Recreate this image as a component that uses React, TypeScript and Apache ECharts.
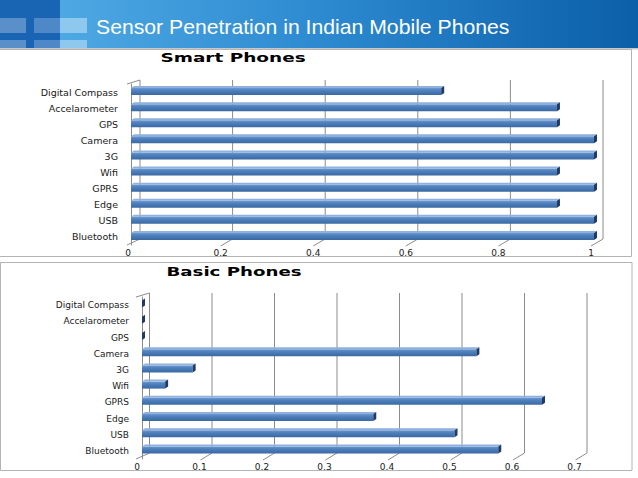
import React, { useEffect, useRef } from "react";
import * as echarts from "echarts";

// categories listed bottom to top, as the category axis draws them
const categories = [
  "Bluetooth",
  "USB",
  "Edge",
  "GPRS",
  "Wifi",
  "3G",
  "Camera",
  "GPS",
  "Accelarometer",
  "Digital Compass",
];
const smartPhones = [1, 1, 0.92, 1, 0.92, 1, 1, 0.92, 0.92, 0.67];
const basicPhones = [0.57, 0.5, 0.37, 0.64, 0.037, 0.081, 0.535, 0, 0, 0];
const smartTicks = [0, 0.2, 0.4, 0.6, 0.8, 1];
const basicTicks = [0, 0.1, 0.2, 0.3, 0.4, 0.5, 0.6, 0.7];

const GRID = "#8c8c8c";
const LABEL = "#1a1a1a";
const FONT = "DejaVu Sans";

// 3D depth of a bar: top face and end cap
const DEPTH_X = 3;
const DEPTH_Y = 2;
const BAR_H = 7;

function barRenderer(dy: number) {
  const face = new echarts.graphic.LinearGradient(0, 0, 0, 1, [
    { offset: 0, color: "#6b98d1" },
    { offset: 0.35, color: "#4f81bd" },
    { offset: 1, color: "#3a68a3" },
  ]);
  return (params: any, api: any) => {
    const cat = api.value(1);
    const base = api.coord([0, cat]);
    const tip = api.coord([api.value(0), cat]);
    const x0 = base[0];
    const x1 = tip[0];
    const top = base[1] + dy - BAR_H / 2;
    return {
      type: "group",
      children: [
        {
          type: "rect",
          shape: { x: x0, y: top, width: Math.max(x1 - x0, 0), height: BAR_H },
          style: { fill: face },
        },
        {
          type: "polygon",
          shape: {
            points: [
              [x0, top],
              [x0 + DEPTH_X, top - DEPTH_Y],
              [x1 + DEPTH_X, top - DEPTH_Y],
              [x1, top],
            ],
          },
          style: { fill: "#8fb1dc" },
        },
        {
          type: "polygon",
          shape: {
            points: [
              [x1, top],
              [x1 + DEPTH_X, top - DEPTH_Y],
              [x1 + DEPTH_X, top + BAR_H - DEPTH_Y],
              [x1, top + BAR_H],
            ],
          },
          style: { fill: "#1f3a66" },
        },
      ],
    };
  };
}

// back wall gridlines plus the floor diagonals and the side wall
function wallRenderer(backDx: number, frontDx: number, axisOffset: number) {
  return (params: any, api: any) => {
    const cs = params.coordSys;
    const v = api.value(0);
    const p = api.coord([v, 0]);
    const bx = p[0] + backDx;
    const top = cs.y - 4;
    const backBottom = cs.y + cs.height - 6;
    const bottom = cs.y + cs.height;
    const fx = v === 0 ? cs.x - axisOffset : p[0] + frontDx;
    const fy = v === 0 ? bottom : bottom + 1;
    const children: any[] = [
      {
        type: "polyline",
        shape: { points: [[bx, top], [bx, backBottom], [fx, fy]] },
        style: { stroke: GRID, fill: null, lineWidth: 1 },
      },
    ];
    if (v === 0) {
      children.push({
        type: "line",
        shape: { x1: cs.x - axisOffset, y1: cs.y, x2: bx, y2: top },
        style: { stroke: GRID, lineWidth: 1 },
      });
    }
    return { type: "group", children };
  };
}

const valueAxis = (gridIndex: number, max: number, interval: number, shift: number) => ({
  gridIndex,
  type: "value" as const,
  min: 0,
  max,
  interval,
  splitLine: { show: false },
  axisLine: { show: false },
  axisTick: { show: false },
  axisLabel: {
    margin: 3,
    padding: [0, shift * 2, 0, 0],
    fontSize: 9,
    fontFamily: FONT,
    color: LABEL,
  },
});

const categoryAxis = (gridIndex: number, offset: number, margin: number, size: number) => ({
  gridIndex,
  type: "category" as const,
  data: categories,
  offset,
  axisLine: { lineStyle: { color: GRID } },
  axisTick: { length: 4, lineStyle: { color: GRID } },
  axisLabel: { margin, fontSize: size, fontFamily: FONT, color: LABEL },
});

export default function App() {
  const chartRef = useRef<HTMLDivElement>(null);

  useEffect(() => {
    if (!chartRef.current) return;
    const chart = echarts.init(chartRef.current, null, { renderer: "svg" });

    const banner = new echarts.graphic.LinearGradient(0, 0, 1, 0, [
      { offset: 0, color: "#55afe7" },
      { offset: 0.5, color: "#2d8ad0" },
      { offset: 1, color: "#0b5fa8" },
    ]);

    chart.setOption({
      animation: false,
      backgroundColor: "#ffffff",
      grid: [
        { left: 131, right: 44, top: 84, bottom: 233 },
        { left: 142, right: 58.5, top: 297, bottom: 19 },
      ],
      xAxis: [valueAxis(0, 1, 0.2, 3), valueAxis(1, 0.7, 0.1, 5)],
      yAxis: [categoryAxis(0, 4, 9, 9.5), categoryAxis(1, 6, 7, 9)],
      graphic: [
        // banner
        { type: "rect", shape: { x: 0, y: 0, width: 638, height: 48 }, style: { fill: banner } },
        { type: "rect", shape: { x: 0, y: 0, width: 60, height: 48 }, style: { fill: "#1a64b4" } },
        { type: "rect", shape: { x: 0, y: 18, width: 26, height: 15 }, style: { fill: "#5b8fc9" } },
        { type: "rect", shape: { x: 34, y: 18, width: 26, height: 15 }, style: { fill: "#4e88c6" } },
        { type: "rect", shape: { x: 60, y: 18, width: 27, height: 15 }, style: { fill: "#8ec8ef" } },
        { type: "rect", shape: { x: 0, y: 40, width: 26, height: 8 }, style: { fill: "#5b8fc9" } },
        { type: "rect", shape: { x: 34, y: 40, width: 26, height: 8 }, style: { fill: "#4e88c6" } },
        { type: "rect", shape: { x: 60, y: 40, width: 27, height: 8 }, style: { fill: "#8ec8ef" } },
        { type: "rect", shape: { x: 0, y: 48, width: 638, height: 1.5 }, style: { fill: "#c8c8c8" } },
        {
          type: "text",
          x: 96,
          y: 27,
          scaleX: 1.06,
          style: {
            text: "Sensor Penetration in Indian Mobile Phones",
            fill: "#ffffff",
            font: '20px "Liberation Sans", Arial, sans-serif',
            textVerticalAlign: "middle",
          },
        },
        // panels
        {
          type: "rect",
          shape: { x: -1, y: 49.5, width: 632.5, height: 207 },
          style: { fill: null, stroke: "#b4b4b4", lineWidth: 1 },
        },
        {
          type: "rect",
          shape: { x: 0.5, y: 262.5, width: 631.5, height: 208 },
          style: { fill: null, stroke: "#b4b4b4", lineWidth: 1 },
        },
        {
          type: "text",
          x: 233,
          y: 58,
          scaleX: 1.42,
          style: {
            text: "Smart Phones",
            fill: "#000000",
            font: 'bold 13px "DejaVu Sans", sans-serif',
            textAlign: "center",
            textVerticalAlign: "middle",
          },
        },
        {
          type: "text",
          x: 234,
          y: 271,
          scaleX: 1.4,
          style: {
            text: "Basic Phones",
            fill: "#000000",
            font: 'bold 13px "DejaVu Sans", sans-serif',
            textAlign: "center",
            textVerticalAlign: "middle",
          },
        },
      ],
      series: [
        {
          type: "custom",
          name: "wall-smart",
          xAxisIndex: 0,
          yAxisIndex: 0,
          clip: false,
          z: 1,
          silent: true,
          encode: { x: 0, y: 1 },
          data: smartTicks.map((t) => [t, 0]),
          renderItem: wallRenderer(9, -3, 4),
        },
        {
          type: "custom",
          name: "wall-basic",
          xAxisIndex: 1,
          yAxisIndex: 1,
          clip: false,
          z: 1,
          silent: true,
          encode: { x: 0, y: 1 },
          data: basicTicks.map((t) => [t, 0]),
          renderItem: wallRenderer(7.5, -4, 6),
        },
        {
          type: "custom",
          name: "Smart Phones",
          xAxisIndex: 0,
          yAxisIndex: 0,
          clip: false,
          z: 3,
          encode: { x: 0, y: 1 },
          data: smartPhones.map((v, i) => [v, i]),
          renderItem: barRenderer(-0.5),
        },
        {
          type: "custom",
          name: "Basic Phones",
          xAxisIndex: 1,
          yAxisIndex: 1,
          clip: false,
          z: 3,
          encode: { x: 0, y: 1 },
          data: basicPhones.map((v, i) => [v, i]),
          renderItem: barRenderer(-1),
        },
      ],
    });

    return () => {
      chart.dispose();
    };
  }, []);

  return (
    <div
      ref={chartRef}
      style={{ position: "absolute", left: 0, top: 0, width: 638, height: 478 }}
    />
  );
}
